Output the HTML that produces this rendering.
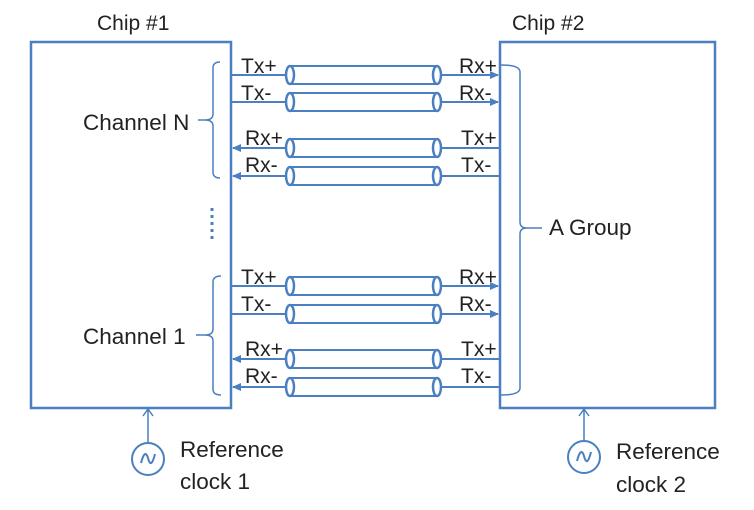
<!DOCTYPE html>
<html><head><style>
body{margin:0;background:#fff;}
svg text{font-family:"Liberation Sans",sans-serif;fill:#222;}
</style></head><body>
<svg width="754" height="505" viewBox="0 0 754 505" xmlns="http://www.w3.org/2000/svg">
<defs>
<marker id="ar" markerWidth="10" markerHeight="10" refX="8" refY="5" orient="auto" markerUnits="userSpaceOnUse">
<path d="M0,1 L9,5 L0,9 Z" fill="#4a7fc1"/>
</marker>
</defs>
<g stroke="#4a7fc1" fill="none">
<rect x="31" y="42" width="200" height="366" stroke-width="2.5"/>
<rect x="500" y="42" width="215" height="366" stroke-width="2.5"/>
<path d="M220,62 Q213,62 213,68 L213,114 Q213,120 205,120 L198,120 M205,120 Q213,120 213,126 L213,172 Q213,178 220,178" stroke-width="1.5"/>
<path d="M221,276 Q213,276 213,282 L213,329 Q213,335 205,335 L196,335 M205,335 Q213,335 213,341 L213,389 Q213,395 221,395" stroke-width="1.5"/>
<path d="M501,65 Q520,65 520,72 L520,222 Q520,228 527,228 L542,228 M527,228 Q520,228 520,234 L520,388 Q520,395 501,395" stroke-width="1.5"/>
<path d="M212,208 L212,242" stroke-width="3" stroke-dasharray="3,4"/>
<path d="M148,442 L148,410 M143,416 L148,409 L153,416" stroke-width="1.5"/>
<path d="M584,440 L584,410 M579,416 L584,409 L589,416" stroke-width="1.5"/>
<circle cx="148" cy="459" r="16" stroke-width="2"/>
<circle cx="584" cy="457" r="16" stroke-width="2"/>
<path d="M141,463 Q145,448 148,458 Q151,470 155,454" stroke-width="2"/>
<path d="M577,461 Q581,446 584,456 Q587,468 591,452" stroke-width="2"/>
</g>
<g stroke="#4a7fc1" fill="none" stroke-width="2">
<g id="c1">
<path d="M290,66 L437,66 M290,84 L437,84"/>
<ellipse cx="290" cy="75" rx="4" ry="9" fill="#fff" stroke-width="2.5"/>
<ellipse cx="437" cy="75" rx="4" ry="9" fill="#fff" stroke-width="2.5"/>
</g>
<use href="#c1" y="27"/>
<use href="#c1" y="73"/>
<use href="#c1" y="101"/>
<use href="#c1" y="211"/>
<use href="#c1" y="239"/>
<use href="#c1" y="284"/>
<use href="#c1" y="312"/>
<path d="M231,75 L286,75 M441,75 L498,75" marker-end="url(#ar)"/>
<path d="M231,102 L286,102 M441,102 L498,102" marker-end="url(#ar)"/>
<path d="M500,148 L441,148 M286,148 L233,148" marker-end="url(#ar)"/>
<path d="M500,176 L441,176 M286,176 L233,176" marker-end="url(#ar)"/>
<path d="M231,286 L286,286 M441,286 L498,286" marker-end="url(#ar)"/>
<path d="M231,314 L286,314 M441,314 L498,314" marker-end="url(#ar)"/>
<path d="M500,359 L441,359 M286,359 L233,359" marker-end="url(#ar)"/>
<path d="M500,387 L441,387 M286,387 L233,387" marker-end="url(#ar)"/>
</g>
<g font-size="21">
<text x="97" y="30" font-size="21">Chip #1</text>
<text x="512" y="30" font-size="21">Chip #2</text>
<text x="83" y="130" font-size="22.5">Channel N</text>
<text x="83" y="344" font-size="22.5">Channel 1</text>
<text x="549" y="235" font-size="22.5">A Group</text>
<text x="180" y="457" font-size="22.5">Reference</text>
<text x="180" y="489" font-size="22.5">clock 1</text>
<text x="616" y="459" font-size="22.5">Reference</text>
<text x="616" y="492" font-size="22.5">clock 2</text>
<text x="241" y="73">Tx+</text>
<text x="241" y="100">Tx-</text>
<text x="245" y="145">Rx+</text>
<text x="245" y="172">Rx-</text>
<text x="459" y="73">Rx+</text>
<text x="459" y="100">Rx-</text>
<text x="461" y="145">Tx+</text>
<text x="461" y="172">Tx-</text>
<text x="241" y="284">Tx+</text>
<text x="241" y="311">Tx-</text>
<text x="245" y="356">Rx+</text>
<text x="245" y="383">Rx-</text>
<text x="459" y="284">Rx+</text>
<text x="459" y="311">Rx-</text>
<text x="461" y="356">Tx+</text>
<text x="461" y="383">Tx-</text>
</g>
</svg>
</body></html>
